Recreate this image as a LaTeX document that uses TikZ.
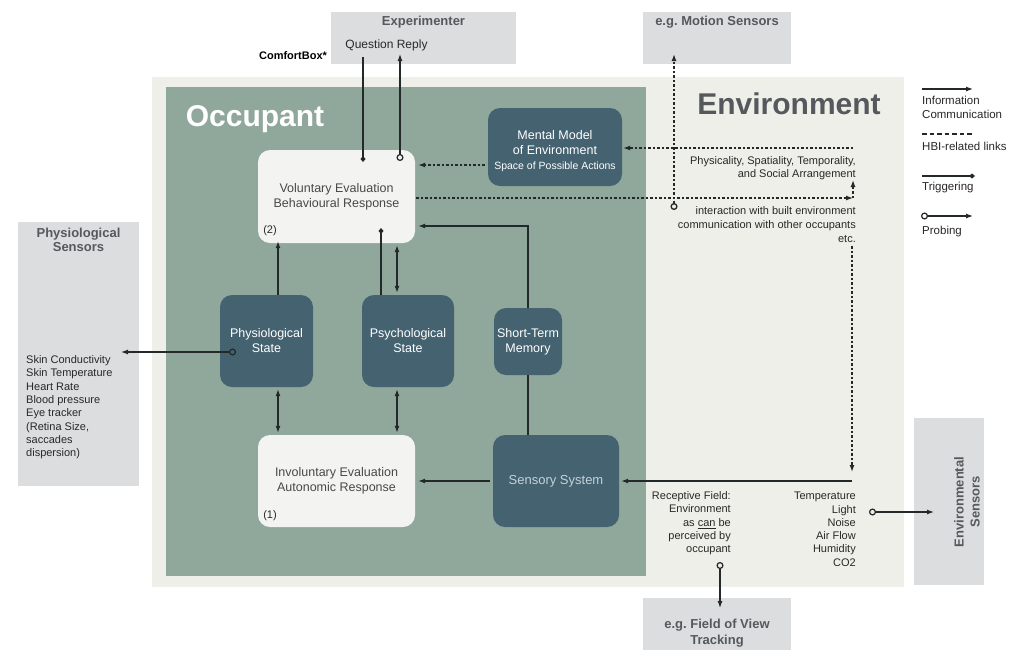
\documentclass[tikz,border=0pt]{standalone}
\usepackage{fontspec}
\setmainfont{Liberation Sans}
\usetikzlibrary{arrows.meta,calc}
\definecolor{envbg}{RGB}{239,239,234}
\definecolor{occ}{RGB}{143,168,155}
\definecolor{tealbox}{RGB}{69,98,113}
\definecolor{wbox}{RGB}{243,244,242}
\definecolor{sbox}{RGB}{220,221,223}
\definecolor{gtxt}{RGB}{85,88,92}
\definecolor{ln}{RGB}{35,40,40}
\definecolor{txt}{RGB}{40,40,40}
\definecolor{senstxt}{RGB}{195,210,218}
\begin{document}
\begin{tikzpicture}[x=1pt,y=-1pt,
  fs/.style={font=\fontsize{#1}{13.3}\selectfont},
  fsb/.style 2 args={font=\fontsize{#1}{#2}\selectfont},
  darkbox/.style={fill=tealbox, rounded corners=12pt, text=white, align=center, inner sep=0pt, fsb={12.5}{15}},
  lightbox/.style={fill=wbox, rounded corners=12pt, text=txt!85, align=center, inner sep=0pt, fsb={12.5}{15}},
  sensbox/.style={fill=sbox, inner sep=0pt},
  senstitle/.style={text=gtxt, font=\fontsize{13}{16}\selectfont\bfseries, align=center, inner sep=0pt},
  lbl/.style={text=txt, fs=11, inner sep=0pt},
  arr/.style={draw=ln, line width=1.2pt, -{Latex[length=7pt,width=5pt]}},
  dbl/.style={draw=ln, line width=1.2pt, {Latex[length=7pt,width=5pt]}-{Latex[length=7pt,width=5pt]}},
  trig/.style={draw=ln, line width=1.2pt, -{Diamond[length=6pt,width=5pt]}},
  probe/.style={draw=ln, line width=1.2pt, {Circle[open,length=7pt]}-{Latex[length=7pt,width=5pt]}},
  hbi/.style={draw=ln, line width=1.3pt, dash pattern=on 2.5pt off 2pt},
  plain/.style={draw=ln, line width=1.2pt}
]
\useasboundingbox (0,0) rectangle (1024,667);
\fill[white] (0,0) rectangle (1024,667);

% backgrounds
\node[fill=envbg, minimum width=752pt, minimum height=510pt, inner sep=0pt] (env) at (528,332) {};
\node[fill=occ, minimum width=480pt, minimum height=489pt, inner sep=0pt] (occ) at (406,331.5) {};
\node[text=white, font=\fontsize{30}{30}\selectfont\bfseries, inner sep=0pt] (occtitle) at (255,119) {Occupant};
\node[text=gtxt, font=\fontsize{30}{30}\selectfont\bfseries, inner sep=0pt] (envtitle) at (789,104) {Environment};

% sensor boxes
\node[sensbox, minimum width=185pt, minimum height=52pt] (exper) at (423.5,38) {};
\node[senstitle] (expertitle) at (423.5,22) {Experimenter};
\node[lbl, fs=12] (qr) at (386.5,45) {Question Reply};
\node[text=black, font=\fontsize{11}{13}\selectfont\bfseries, inner sep=0pt] (comfort) at (293,56) {ComfortBox*};

\node[sensbox, minimum width=148pt, minimum height=52pt] (motion) at (717,38) {};
\node[senstitle] (motiontitle) at (717,22) {e.g.\ Motion Sensors};

\node[sensbox, minimum width=121pt, minimum height=264pt] (phys) at (78.5,354) {};
\node[senstitle, font=\fontsize{13}{14}\selectfont\bfseries] (physt) at (78.5,239.5) {Physiological\\Sensors};
\node[lbl, anchor=north west, align=left] (physlist) at (26,355.5) {Skin Conductivity\\Skin Temperature\\Heart Rate\\Blood pressure\\Eye tracker\\(Retina Size,\\saccades\\dispersion)};

\node[sensbox, minimum width=148pt, minimum height=52pt] (fov) at (717,624) {};
\node[senstitle, font=\fontsize{13}{16}\selectfont\bfseries] (fovt) at (717,633) {e.g.\ Field of View\\Tracking};

\node[sensbox, minimum width=70pt, minimum height=167pt] (envs) at (949,501.5) {};
\node[senstitle, font=\fontsize{13}{16}\selectfont\bfseries, rotate=90] (envst) at (967,502) {Environmental\\Sensors};

% occupant boxes
\node[darkbox, minimum width=134pt, minimum height=78pt] (mental) at (555,147) {};
\node[text=white, align=center, inner sep=0pt, fsb={12.5}{15}] (mentaltxt) at (555,151) {Mental Model\\of Environment\\{\fontsize{10.5}{12}\selectfont Space of Possible Actions}};
\node[lightbox, minimum width=157pt, minimum height=93pt] (vol) at (336.5,196.5) {Voluntary Evaluation\\Behavioural Response};
\node[lbl] (two) at (270,231) {(2)};
\node[darkbox, minimum width=93pt, minimum height=92pt] (pstate) at (266.5,341) {Physiological\\State};
\node[darkbox, minimum width=92pt, minimum height=92pt] (psych) at (408,341) {Psychological\\State};
\node[darkbox, minimum width=68pt, minimum height=67pt] (stm) at (528,341.5) {Short-Term\\Memory};
\node[lightbox, minimum width=157pt, minimum height=92pt] (invol) at (336.5,481) {Involuntary Evaluation\\Autonomic Response};
\node[lbl] (one) at (270,516) {(1)};
\node[darkbox, minimum width=126pt, minimum height=92pt, text=senstxt, fsb={13}{15}] (sens) at (556,481) {Sensory System};

% environment texts
\node[lbl, anchor=north east, align=right] (phystxt) at (856,156) {Physicality, Spatiality, Temporality,\\and Social Arrangement};
\node[lbl, anchor=north east, align=right, fsb={11}{14}] (inttxt) at (856,206) {interaction with built environment\\communication with other occupants\\etc.};
\node[lbl, anchor=north east, align=right] (rectxt) at (731,491.5) {Receptive Field:\\Environment\\as \underline{can} be\\perceived by\\occupant};
\node[lbl, anchor=north east, align=right] (temptxt) at (856,492) {Temperature\\Light\\Noise\\Air Flow\\Humidity\\CO2};

% coordinates
\coordinate (q1) at (363,57);
\coordinate (q2) at (363,162);
\coordinate (r1) at (400,161);
\coordinate (r2) at (400,54);
\coordinate (e1) at (853,148);
\coordinate (e2) at (853,198);
\coordinate (e3) at (853,180);
\coordinate (m1) at (674,210);
\coordinate (m2) at (674,54);
\coordinate (v1) at (852,246);
\coordinate (v2) at (852,472);
\coordinate (v3) at (852,481);
\coordinate (f1) at (720,562);
\coordinate (f2) at (720,608);
\coordinate (s1) at (869,512);
\coordinate (s2) at (934,512);
\coordinate (p1) at (236,352);
\coordinate (p2) at (121,352);
\coordinate (k1) at (381,228);
\coordinate (t1) at (528,226);

% connectors
\draw[trig] (q1) -- (q2);
\draw[probe] (r1) -- (r2);
\draw[hbi, -{Latex[length=7pt,width=5pt]}, shorten <=3pt] (mental.west |- 0,165) -- ($(vol.east |- 0,165)+(3,0)$);
\draw[hbi, -{Latex[length=7pt,width=5pt]}] (e1) -- ($(mental.east |- e1)+(1,0)$);
\draw[hbi, -{Latex[length=7pt,width=5pt]}, shorten <=1pt] (vol.east |- e2) -- (e2);
\draw[hbi, -{Latex[length=7pt,width=5pt]}] (e2) -- (e3);
\draw[hbi, {Circle[open,length=7pt]}-{Latex[length=7pt,width=5pt]}] (m1) -- (m2);
\draw[hbi, -{Latex[length=7pt,width=5pt]}] (v1) -- (v2);
\draw[arr] (v3) -- ($(sens.east)+(2,0)$);
\draw[probe] (f1) -- (f2);
\draw[probe] (s1) -- (s2);
\draw[probe] (p1) -- (p2);
\draw[arr] (pstate.north -| 278,0) -- ($(vol.south -| 278,0)+(0,-2)$);
\draw[dbl] ($(pstate.south -| 278,0)+(0,2)$) -- ($(invol.north -| 278,0)+(0,-2)$);
\draw[trig] (psych.north -| k1) -- (k1);
\draw[dbl] ($(vol.south -| 397,0)+(0,2)$) -- ($(psych.north -| 397,0)+(0,-2)$);
\draw[dbl] ($(psych.south -| 397,0)+(0,2)$) -- ($(invol.north -| 397,0)+(0,-2)$);
\draw[arr] (stm.north) -- (t1) -- ($(vol.east |- t1)+(3,0)$);
\draw[plain] (sens.north -| stm.south) -- (stm.south);
\draw[arr] ($(sens.west)+(-3,0)$) -- ($(invol.east)+(3,0)$);

% legend
\coordinate (l1a) at (922,89);  \coordinate (l1b) at (973,89);
\coordinate (l2a) at (922,134); \coordinate (l2b) at (973,134);
\coordinate (l3a) at (922,176); \coordinate (l3b) at (975,176);
\coordinate (l4a) at (921,216); \coordinate (l4b) at (973,216);
\draw[arr] (l1a) -- (l1b);
\draw[draw=ln, line width=1.3pt, dash pattern=on 4.5pt off 3pt] (l2a) -- (l2b);
\draw[trig] (l3a) -- (l3b);
\draw[probe] (l4a) -- (l4b);
\node[lbl, fsb={11.5}{14}, anchor=north west, align=left] (lg1) at (922,95.5) {Information\\Communication};
\node[lbl, fs=11.5, anchor=north west] (lg2) at (922,141.5) {HBI-related links};
\node[lbl, fs=11.5, anchor=north west] (lg3) at (922,181.5) {Triggering};
\node[lbl, fs=11.5, anchor=north west] (lg4) at (922,225.5) {Probing};
\end{tikzpicture}
\end{document}
